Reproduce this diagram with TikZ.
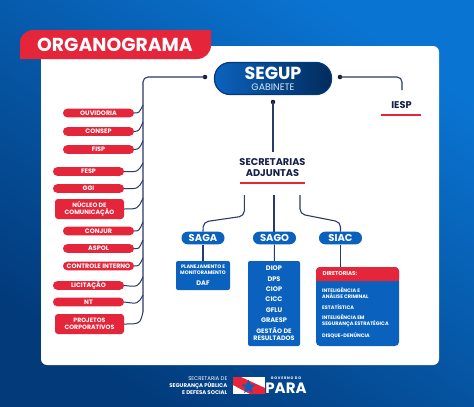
\documentclass[tikz,border=0pt]{standalone}
\usepackage{fontspec}
\setmainfont{Poppins}
\usetikzlibrary{shapes.geometric}
\definecolor{bgdark}{HTML}{023A7A}
\definecolor{bglight}{HTML}{0A74D2}
\definecolor{tabred}{HTML}{E4253A}
\definecolor{boxblue}{HTML}{0B62BE}
\definecolor{linenavy}{HTML}{2B3A68}
\definecolor{textnavy}{HTML}{14204A}
\tikzset{
    font=\bfseries,
    redpill/.style={fill=tabred, text=white, inner sep=0pt, minimum width=71pt, minimum height=8.6pt, rounded corners=4.2pt, font=\fontsize{6.4}{7}\bfseries},
    redbox/.style={fill=tabred, text=white, inner sep=0pt, minimum width=69pt, minimum height=20pt, rounded corners=3pt, align=center, font=\fontsize{6.2}{7.4}\bfseries},
    bluepill/.style={fill=boxblue, text=white, inner sep=0pt, minimum width=43pt, minimum height=12.6pt, rounded corners=6.2pt, font=\fontsize{10}{10}\bfseries},
    bluebox/.style={fill=boxblue, text=white, inner sep=0pt, rounded corners=2pt},
    titletext/.style={text=textnavy, align=center, inner sep=0pt, font=\fontsize{9.8}{11}\bfseries},
    wire/.style={draw=linenavy, line width=1.1pt, rounded corners=5pt},
    branch/.style={draw=linenavy, line width=1pt},
    redline/.style={draw=tabred, line width=1.8pt},
    dot/.style={fill=textnavy}
}
\begin{document}
\begin{tikzpicture}[x=1pt,y=-1pt]
    \useasboundingbox (0,0) rectangle (474,407);

    % fundo
    \shade[top color=bglight, bottom color=bgdark, shading angle=-35] (0,0) rectangle (474,407);
    \fill[white, rounded corners=6pt] (41,46) -- (439,46) -- (439,365) -- (41,365) -- cycle;

    % titulo
    \fill[tabred] (20,59) -- (20,43) .. controls (20,35) and (26,30) .. (34,30) -- (211,30) -- (211,45) .. controls (211,53) and (205,59) .. (197,59) -- cycle;
    \node[text=white, inner sep=0pt, font=\fontsize{18.8}{20}\bfseries] (titulo) at (115,44.5) {ORGANOGRAMA};

    % gabinete
    \node[left color=boxblue, middle color=boxblue!80!bgdark, right color=bgdark!75!black, draw=bgdark, line width=1.2pt, minimum width=117pt, minimum height=32pt, rounded corners=15.5pt, inner sep=0pt, text=white, align=center] (segup) at (273,78.5) {{\fontsize{17.5}{18}\bfseries SEGUP}\\[-1pt]{\fontsize{9.4}{10}\mdseries\color{white!85!boxblue} GABINETE}};

    \coordinate (dotleft) at (205,77);
    \coordinate (dotright) at (340,77);
    \coordinate (dotdown) at (273,102);
    \filldraw[dot] (dotleft) circle (2pt);
    \filldraw[dot] (dotright) circle (2pt);
    \filldraw[dot] (dotdown) circle (2pt);

    % lado esquerdo
    \node[redpill] (ouvidoria) at (98.5,113) {OUVIDORIA};
    \node[redpill] (consep) at (98.5,131.5) {CONSEP};
    \node[redpill] (fisp) at (98.5,149.5) {FISP};
    \node[redpill] (fesp) at (88.5,171.5) {FESP};
    \node[redpill] (ggi) at (88.5,188.5) {GGI};
    \node[redbox] (nucleo) at (89.5,209) {NÚCLEO DE\\COMUNICAÇÃO};
    \node[redpill] (conjur) at (98.5,231) {CONJUR};
    \node[redpill] (aspol) at (98.5,248.5) {ASPOL};
    \node[redpill] (controle) at (98.5,266) {CONTROLE INTERNO};
    \node[redpill] (licitacao) at (88.5,285.5) {LICITAÇÃO};
    \node[redpill] (nt) at (88.5,302) {NT};
    \node[redbox] (projetos) at (89.5,324) {PROJETOS\\CORPORATIVOS};

    \coordinate (trunkend) at (143,312);
    \draw[wire] (dotleft) -- (143,77) -- (trunkend);
    \draw[branch] (ouvidoria.east) .. controls (139,113) .. (143,105);
    \draw[branch] (consep.east) .. controls (139,131) .. (143,122);
    \draw[branch] (fisp.east) .. controls (139,149) .. (143,141);
    \draw[branch] (fesp.east) .. controls (138,172) .. (143,163);
    \draw[branch] (ggi.east) .. controls (138,189) .. (143,180);
    \draw[branch] (nucleo.east) .. controls (138,209) .. (143,198);
    \draw[branch] (conjur.east) .. controls (139,231) .. (143,222);
    \draw[branch] (aspol.east) .. controls (139,249) .. (143,240);
    \draw[branch] (controle.east) .. controls (139,266) .. (143,258);
    \draw[branch] (licitacao.east) .. controls (138,287) .. (143,277);
    \draw[branch] (nt.east) .. controls (138,304) .. (143,295);
    \draw[branch] (projetos.east) .. controls (140,324) .. (143,312);

    % iesp
    \node[titletext] (iesp) at (401.5,105) {IESP};
    \coordinate (iesptop) at (402,90);
    \draw[wire] (dotright) -- (402,77) -- (iesptop);
    \draw[redline] (381,115.3) -- (421,115.3);

    % secretarias
    \node[titletext] (adjuntas) at (272.5,168) {SECRETARIAS\\ADJUNTAS};
    \draw[wire] (dotdown) -- (273,152);
    \draw[redline] (240,182.6) -- (305,182.6);

    \node[bluepill] (saga) at (203,238) {SAGA};
    \node[bluepill] (sago) at (274.5,238) {SAGO};
    \node[bluepill] (siac) at (340.5,238) {SIAC};

    \node[bluebox, minimum width=54pt, minimum height=29pt] (sagabox) at (203,275.5) {};
    \node[bluebox, minimum width=52pt, minimum height=85pt] (sagobox) at (274,303.5) {};
    \node[bluebox, minimum width=83pt, minimum height=79pt, rounded corners=4pt] (siacbox) at (357.5,306.5) {};
    \fill[tabred, rounded corners=4pt] (316,281) -- (316,267) -- (399,267) -- (399,281) -- cycle;
    \fill[tabred] (316,276) rectangle (399,281);

    \coordinate (sagatop) at (244.3,195);
    \coordinate (sagotop) at (274,195);
    \coordinate (siactop) at (300,195);
    \draw[wire] (sagatop) -- (244.3,216) -- (203.3,222) -- (saga.north);
    \draw[wire] (sagotop) -- (sago.north -| sagotop);
    \draw[wire] (siactop) -- (300,214) -- (340.5,222) -- (siac.north);
    \draw[wire] (saga) -- (sagabox);
    \draw[wire] (sago) -- (sagobox);
    \draw[wire] (siac.south) -- (340.5,267);

    % textos das caixas
    \node[text=white, inner sep=0pt, align=center, font=\fontsize{5}{6}\bfseries] (planejamento) at (203,270) {PLANEJAMENTO E\\MONITORAMENTO};
    \node[text=white, inner sep=0pt, font=\fontsize{6.6}{7}\bfseries] (daf) at (203,283) {DAF};
    \node[text=white, inner sep=0pt, font=\fontsize{6.6}{7}\bfseries] (diop) at (274,268.5) {DIOP};
    \node[text=white, inner sep=0pt, font=\fontsize{6.6}{7}\bfseries] (dps) at (274,279) {DPS};
    \node[text=white, inner sep=0pt, font=\fontsize{6.6}{7}\bfseries] (ciop) at (274,289) {CIOP};
    \node[text=white, inner sep=0pt, font=\fontsize{6.6}{7}\bfseries] (cicc) at (274,299.5) {CICC};
    \node[text=white, inner sep=0pt, font=\fontsize{6.6}{7}\bfseries] (gflu) at (274,310) {GFLU};
    \node[text=white, inner sep=0pt, font=\fontsize{6.6}{7}\bfseries] (graesp) at (274,320.5) {GRAESP};
    \node[text=white, inner sep=0pt, align=center, font=\fontsize{6.4}{7}\bfseries] (gestao) at (274,334.5) {GESTÃO DE\\RESULTADOS};

    \node[text=white, inner sep=0pt, anchor=west, font=\fontsize{5.6}{6}\bfseries] (diretorias) at (322.5,274) {DIRETORIAS:};
    \node[text=white, inner sep=0pt, anchor=west, align=left, font=\fontsize{5}{6}\bfseries] (analise) at (322,293.5) {INTELIGÊNCIA E\\ANÁLISE CRIMINAL};
    \node[text=white, inner sep=0pt, anchor=west, font=\fontsize{5}{6}\bfseries] (estatistica) at (322,307.5) {ESTATÍSTICA};
    \node[text=white, inner sep=0pt, anchor=west, align=left, font=\fontsize{5}{6}\bfseries] (estrategica) at (322,321) {INTELIGÊNCIA EM\\SEGURANÇA ESTRATÉGICA};
    \node[text=white, inner sep=0pt, anchor=west, font=\fontsize{5}{6}\bfseries] (disque) at (322,335) {DISQUE-DENÚNCIA};

    % rodape
    \node[text=white, inner sep=0pt, align=right, anchor=east, font=\fontsize{5.4}{6}\selectfont] (secretaria) at (227.5,379) {SECRETARIA DE};
    \node[text=white, inner sep=0pt, align=right, anchor=east, font=\fontsize{5.4}{6.4}\bfseries] (seguranca) at (227.5,388.5) {SEGURANÇA PÚBLICA\\E DEFESA SOCIAL};
    \fill[white] (233,377) rectangle (265,394);
    \fill[tabred] (233,377) -- (241,377) -- (265,388) -- (265,394) -- (250,394) -- (233,385) -- cycle;
    \node[star, star points=5, star point ratio=2.4, fill=boxblue, inner sep=0pt, minimum size=15pt] (estrela) at (248.5,387) {};
    \node[text=white, inner sep=0pt, font=\fontsize{3.6}{4}\bfseries] (governo) at (286,378.5) {G O V E R N O\ \ D O};
    \node[text=white, inner sep=0pt, font=\fontsize{15}{16}\bfseries] (para) at (286,388.5) {PARA};
\end{tikzpicture}
\end{document}
